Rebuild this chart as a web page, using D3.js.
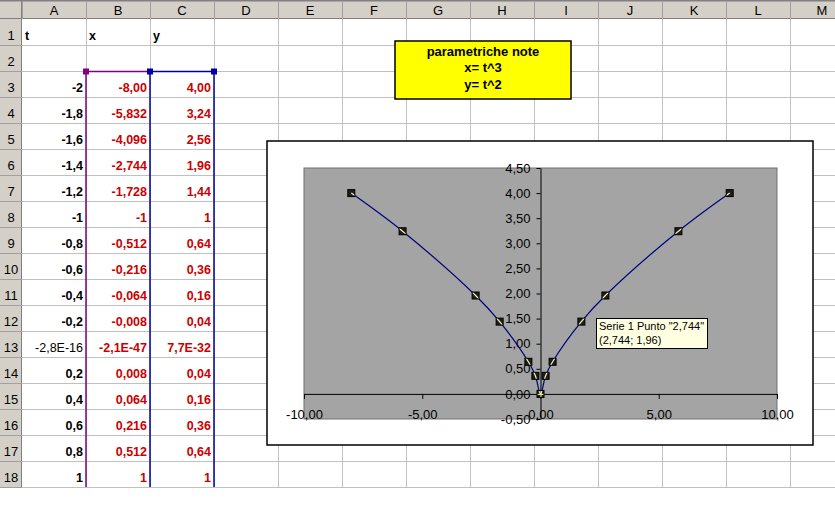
<!DOCTYPE html>
<html>
<head>
<meta charset="utf-8">
<script src="https://cdn.jsdelivr.net/npm/d3@7"></script>
<style>
  body { margin: 0; background: #fff; }
  svg { display: block; font-family: Arial, "Liberation Sans", sans-serif; }
</style>
</head>
<body>
<div id="sheet"></div>
<script>
// sheet content (rows 3..18 as displayed)
var colT = ["-2", "-1,8", "-1,6", "-1,4", "-1,2", "-1", "-0,8", "-0,6", "-0,4", "-0,2", "-2,8E-16", "0,2", "0,4", "0,6", "0,8", "1"];
var colX = ["-8,00", "-5,832", "-4,096", "-2,744", "-1,728", "-1", "-0,512", "-0,216", "-0,064", "-0,008", "-2,1E-47", "0,008", "0,064", "0,216", "0,512", "1"];
var colY = ["4,00", "3,24", "2,56", "1,96", "1,44", "1", "0,64", "0,36", "0,16", "0,04", "7,7E-32", "0,04", "0,16", "0,36", "0,64", "1"];
var colLetters = ["A", "B", "C", "D", "E", "F", "G", "H", "I", "J", "K", "L", "M"];
var headerCells = ["t", "x", "y"];
var noteLines = ["parametriche note", "x= t^3", "y= t^2"];

// chart series (points with visible markers)
var seriesX = [-8, -5.832, -2.744, -1.728, -0.512, -0.216, 0, 0.216, 0.512, 1.728, 2.744, 5.832, 8];
var seriesY = [4, 3.24, 1.96, 1.44, 0.64, 0.36, 0, 0.36, 0.64, 1.44, 1.96, 3.24, 4];
var xTicks = [-10, -5, 0, 5, 10];
var yTicks = [-0.5, 0, 0.5, 1, 1.5, 2, 2.5, 3, 3.5, 4, 4.5];
var tipLines = ["Serie 1 Punto \"2,744\"", "(2,744; 1,96)"];

var W = 835, H = 513;
var rowHead = 22, colW = 64, headH = 19, rowH = 26, nRows = 18;
var gridBottom = headH + nRows * rowH;

var svg = d3.select("#sheet").append("svg")
  .attr("width", W)
  .attr("height", H);

// ---- spreadsheet grid ----
var grid = svg.append("g");

for (var r = 1; r <= nRows; r++) {
  grid.append("line")
    .attr("x1", rowHead).attr("x2", W)
    .attr("y1", headH + r * rowH + 0.5).attr("y2", headH + r * rowH + 0.5)
    .style("stroke", "#c0c0c0");
}
colLetters.forEach(function (c, i) {
  var xr = rowHead + (i + 1) * colW + 0.5;
  grid.append("line")
    .attr("x1", xr).attr("x2", xr)
    .attr("y1", headH).attr("y2", gridBottom)
    .style("stroke", "#c0c0c0");
});

// column headers
grid.append("rect").attr("x", 0).attr("y", 0).attr("width", W).attr("height", headH)
  .style("fill", "#d4d0c8");
grid.append("line").attr("x1", 0).attr("x2", W).attr("y1", 0.5).attr("y2", 0.5)
  .style("stroke", "#808080").style("stroke-width", 2);
grid.append("line").attr("x1", 0).attr("x2", W).attr("y1", headH - 0.5).attr("y2", headH - 0.5)
  .style("stroke", "#808080");
colLetters.forEach(function (c, i) {
  var x0 = rowHead + i * colW;
  grid.append("line").attr("x1", x0 + 0.5).attr("x2", x0 + 0.5).attr("y1", 1).attr("y2", headH)
    .style("stroke", "#a0a0a0");
  grid.append("text")
    .attr("x", x0 + colW / 2).attr("y", 15)
    .attr("text-anchor", "middle")
    .style("font-size", "13px")
    .text(c);
});

// row headers
grid.append("rect").attr("x", 0).attr("y", headH).attr("width", rowHead).attr("height", nRows * rowH)
  .style("fill", "#d4d0c8");
grid.append("line").attr("x1", rowHead - 0.5).attr("x2", rowHead - 0.5).attr("y1", 0).attr("y2", gridBottom)
  .style("stroke", "#808080");
for (var r2 = 1; r2 <= nRows; r2++) {
  grid.append("line").attr("x1", 0).attr("x2", rowHead)
    .attr("y1", headH + r2 * rowH + 0.5).attr("y2", headH + r2 * rowH + 0.5)
    .style("stroke", "#a0a0a0");
  grid.append("text")
    .attr("x", rowHead / 2).attr("y", headH + r2 * rowH - 5)
    .attr("text-anchor", "middle")
    .style("font-size", "13px")
    .text(r2);
}

// row 1 labels
headerCells.forEach(function (h, i) {
  grid.append("text")
    .attr("x", rowHead + i * colW + 3).attr("y", headH + rowH - 5)
    .style("font-size", "12.5px").style("font-weight", "bold")
    .text(h);
});

// data cells
function writeCol(vals, colIdx, color) {
  grid.selectAll(null)
    .data(vals)
    .enter()
    .append("text")
    .attr("x", rowHead + (colIdx + 1) * colW - 3)
    .attr("y", function (d, i) { return headH + (i + 3) * rowH - 5; })
    .attr("text-anchor", "end")
    .style("font-size", "12.5px")
    .style("font-weight", function (d) { return (colIdx === 0 && d.indexOf("E") > 0) ? "normal" : "bold"; })
    .style("fill", color)
    .text(function (d) { return d; });
}
writeCol(colT, 0, "#000");
writeCol(colX, 1, "#cc0000");
writeCol(colY, 2, "#cc0000");

// range highlights for the selected series
var selTop = headH + 2 * rowH + 0.5;
var bx = rowHead + colW, cx = rowHead + 2 * colW, dx = rowHead + 3 * colW;
grid.append("line").attr("x1", bx).attr("x2", cx).attr("y1", selTop).attr("y2", selTop)
  .style("stroke", "#800080").style("stroke-width", 1.5);
grid.append("line").attr("x1", cx).attr("x2", dx).attr("y1", selTop).attr("y2", selTop)
  .style("stroke", "#0000a0").style("stroke-width", 1.5);
grid.append("line").attr("x1", bx).attr("x2", bx).attr("y1", selTop).attr("y2", gridBottom)
  .style("stroke", "#800080").style("stroke-width", 1.5);
[cx, dx].forEach(function (xx) {
  grid.append("line").attr("x1", xx).attr("x2", xx).attr("y1", selTop).attr("y2", gridBottom)
    .style("stroke", "#0000a0").style("stroke-width", 1.5);
});
[[bx, "#800080"], [cx, "#0000a0"], [dx, "#0000a0"]].forEach(function (h) {
  grid.append("rect").attr("x", h[0] - 3).attr("y", selTop - 3).attr("width", 6).attr("height", 6)
    .style("fill", h[1]);
});

// yellow note box
var note = svg.append("g");
note.append("rect").attr("x", 395).attr("y", 41).attr("width", 176).attr("height", 58)
  .style("fill", "#ffff00").style("stroke", "#000").style("stroke-width", 1.5);
noteLines.forEach(function (s, i) {
  note.append("text")
    .attr("x", 483).attr("y", 55.5 + i * 16.5)
    .attr("text-anchor", "middle")
    .style("font-size", "13px").style("font-weight", "bold")
    .text(s);
});

// ---- chart ----
var chart = svg.append("g");
chart.append("rect").attr("x", 267).attr("y", 141).attr("width", 546).attr("height", 304)
  .style("fill", "#fff").style("stroke", "#000").style("stroke-width", 1.5);

var x = d3.scaleLinear().domain([-10, 10]).range([304, 777]);
var y = d3.scaleLinear().domain([-0.5, 4.5]).range([419, 168]);

chart.append("rect")
  .attr("x", x(-10)).attr("y", y(4.5))
  .attr("width", x(10) - x(-10)).attr("height", y(-0.5) - y(4.5))
  .style("fill", "#a4a4a4").style("stroke", "#707070");

var loc = d3.formatLocale({ decimal: ",", thousands: ".", grouping: [3], currency: ["", " €"], minus: "-" });
var fmt = loc.format(".2f");

var yAxis = chart.append("g")
  .attr("transform", "translate(" + x(0) + ",0)")
  .call(d3.axisLeft(y).tickValues(yTicks).tickFormat(fmt).tickSize(4).tickSizeOuter(0).tickPadding(6));
var xAxis = chart.append("g")
  .attr("transform", "translate(0," + y(0) + ")")
  .call(d3.axisBottom(x).tickValues(xTicks).tickFormat(fmt).tickSize(5).tickSizeOuter(0).tickPadding(11));
[yAxis, xAxis].forEach(function (a) {
  a.selectAll("text").style("font-size", "13px").style("fill", "#000")
    .style("font-family", "Arial, 'Liberation Sans', sans-serif");
  a.selectAll("line, path").style("stroke", "#000");
});

var pts = seriesX.map(function (v, i) { return [v, seriesY[i]]; });
var line = d3.line()
  .x(function (d) { return x(d[0]); })
  .y(function (d) { return y(d[1]); })
  .curve(d3.curveCatmullRom.alpha(0.5));

chart.append("path")
  .attr("d", line(pts))
  .style("fill", "none").style("stroke", "#000080").style("stroke-width", 1.2);

chart.selectAll(".mk")
  .data(pts)
  .enter()
  .append("rect")
  .attr("class", "mk")
  .attr("x", function (d) { return x(d[0]) - 3.5; })
  .attr("y", function (d) { return y(d[1]) - 3.5; })
  .attr("width", 7).attr("height", 7)
  .style("fill", "#1e1e1a").style("stroke", "#000");

// inverted line inside the markers (selected series look)
var clip = svg.append("clipPath").attr("id", "mkclip");
clip.selectAll("rect")
  .data(pts)
  .enter()
  .append("rect")
  .attr("x", function (d) { return x(d[0]) - 3; })
  .attr("y", function (d) { return y(d[1]) - 3; })
  .attr("width", 6).attr("height", 6);
var inv = chart.append("g").attr("clip-path", "url(#mkclip)");
inv.append("path").attr("d", line(pts))
  .style("fill", "none").style("stroke", "#f4f4b8").style("stroke-width", 1.2);
inv.append("line").attr("x1", x(-10)).attr("x2", x(10)).attr("y1", y(0) + 0.5).attr("y2", y(0) + 0.5)
  .style("stroke", "#f4f4b8");
inv.append("line").attr("x1", x(0) + 0.5).attr("x2", x(0) + 0.5).attr("y1", y(4.5)).attr("y2", y(-0.5))
  .style("stroke", "#f4f4b8");

// tooltip
var tip = svg.append("g");
tip.append("rect").attr("x", 596.5).attr("y", 318.5).attr("width", 111).attr("height", 30)
  .style("fill", "#ffffe1").style("stroke", "#000");
tipLines.forEach(function (s, i) {
  tip.append("text")
    .attr("x", 599).attr("y", 330 + i * 14)
    .style("font-size", "11px")
    .style("font-family", "'Liberation Sans', Arial, sans-serif")
    .text(s);
});
</script>
</body>
</html>
